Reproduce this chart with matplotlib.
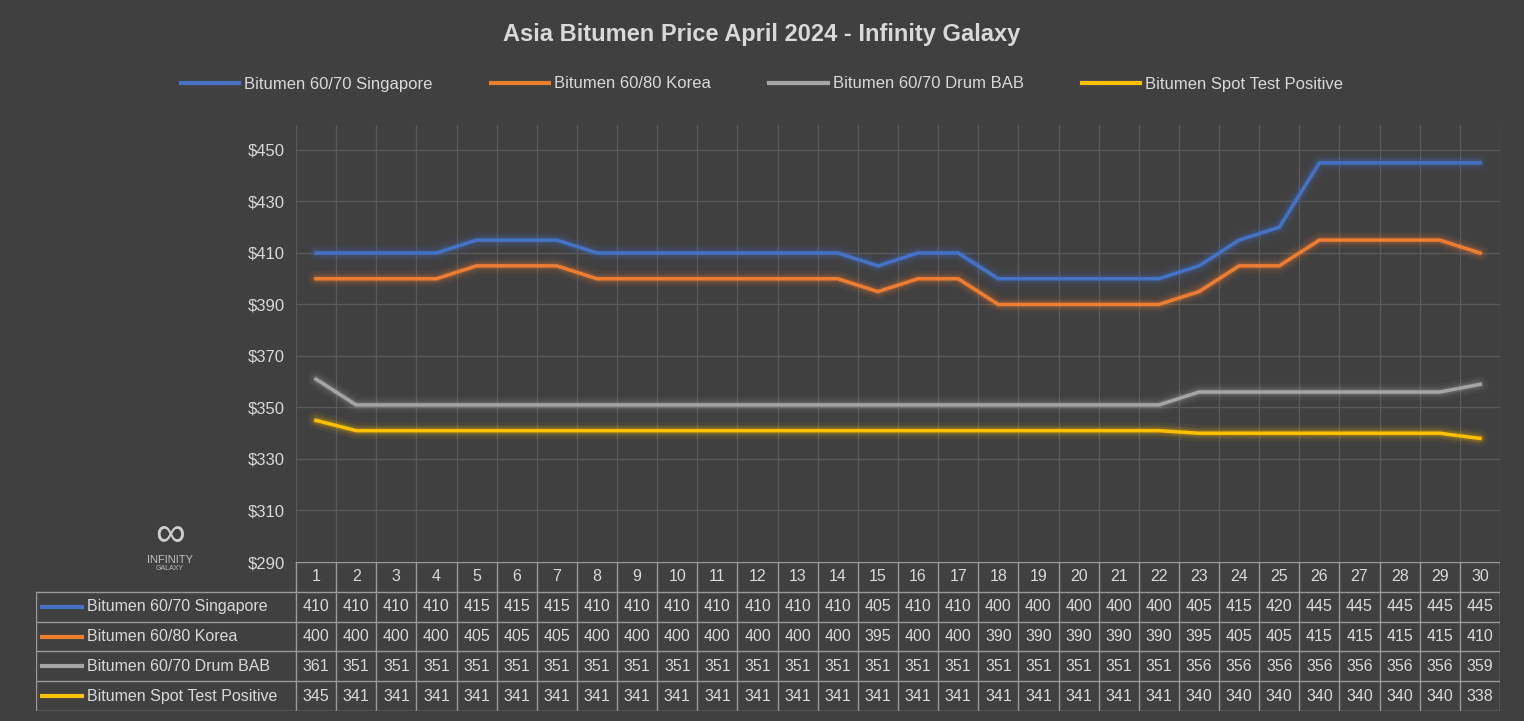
import numpy as np
import matplotlib
matplotlib.use('Agg')
import matplotlib.pyplot as plt
from matplotlib.lines import Line2D

plt.rcParams['font.family'] = ['Liberation Sans', 'DejaVu Sans']

days = list(range(1, 31))
names = ['Bitumen 60/70 Singapore', 'Bitumen 60/80 Korea',
         'Bitumen 60/70 Drum BAB', 'Bitumen Spot Test Positive']
singapore = [410, 410, 410, 410, 415, 415, 415, 410, 410, 410, 410, 410, 410, 410, 405,
             410, 410, 400, 400, 400, 400, 400, 405, 415, 420, 445, 445, 445, 445, 445]
korea = [400, 400, 400, 400, 405, 405, 405, 400, 400, 400, 400, 400, 400, 400, 395,
         400, 400, 390, 390, 390, 390, 390, 395, 405, 405, 415, 415, 415, 415, 410]
drum = [361, 351, 351, 351, 351, 351, 351, 351, 351, 351, 351, 351, 351, 351, 351,
        351, 351, 351, 351, 351, 351, 351, 356, 356, 356, 356, 356, 356, 356, 359]
spot = [345, 341, 341, 341, 341, 341, 341, 341, 341, 341, 341, 341, 341, 341, 341,
        341, 341, 341, 341, 341, 341, 341, 340, 340, 340, 340, 340, 340, 340, 338]
series = [singapore, korea, drum, spot]
colors = ['#4472c4', '#ed7d31', '#a5a5a5', '#ffc000']
yticks = [290, 310, 330, 350, 370, 390, 410, 430, 450]

BG = '#404040'
GRID = '#585858'
TXT = '#d9d9d9'
W, H = 1524, 721

fig = plt.figure(figsize=(W / 100, H / 100), dpi=100, facecolor=BG)

def px(x0, y0, x1, y1):
    return [x0 / W, 1 - y1 / H, (x1 - x0) / W, (y1 - y0) / H]

ax = fig.add_axes(px(296, 125, 1500, 562), facecolor=BG)
x = np.arange(len(days))
for s, c in zip(series, colors):
    for lw, a in [(12, 0.06), (8, 0.1), (5, 0.2)]:
        ax.plot(x, s, color=c, lw=lw, alpha=a, solid_joinstyle='round', solid_capstyle='round')
    ax.plot(x, s, color=c, lw=2.5, solid_joinstyle='round')
ax.set_xlim(-0.5, len(days) - 0.5)
ax.set_ylim(290, 459.7)
ax.set_yticks(yticks)
ax.set_yticklabels(['$%d' % v for v in yticks], color=TXT, fontsize=12)
ax.set_xticks(np.arange(len(days) + 1) - 0.5)
ax.set_xticklabels([])
ax.grid(True, color=GRID, lw=1)
ax.tick_params(length=0, pad=8)
for sp in ax.spines.values():
    sp.set_visible(False)
ax.set_axisbelow(True)

# data table
tab = fig.add_axes(px(36, 562, 1500, 711), facecolor='none')
tab.set_xlim(36, 1500)
tab.set_ylim(711, 562)
tab.axis('off')
cw = (1500 - 296) / len(days)
rh = (711 - 562) / 5
lc = '#9a9a9a'
tab.plot([296, 1500], [562, 562], color=lc, lw=1)
for i, d in enumerate(days):
    tab.text(296 + cw * (i + 0.5), 562 + rh / 2, str(d), ha='center', va='center', color=TXT, fontsize=11.5)
for r in range(1, 6):
    tab.plot([36, 1500], [562 + rh * r, 562 + rh * r], color=lc, lw=1)
for i in range(len(days) + 1):
    tab.plot([296 + cw * i] * 2, [562, 711], color=lc, lw=1)
tab.plot([36, 36], [562 + rh, 711], color=lc, lw=1)
for r, (n, s, c) in enumerate(zip(names, series, colors)):
    yc = 562 + rh * (r + 1.5)
    tab.plot([42, 82], [yc, yc], color=c, lw=3)
    tab.text(87, yc, n, ha='left', va='center', color=TXT, fontsize=11.5)
    for i, v in enumerate(s):
        tab.text(296 + cw * (i + 0.5), yc, str(v), ha='center', va='center', color=TXT, fontsize=11.5)

fig.text(0.5, 1 - 35 / H, 'Asia Bitumen Price April 2024 - Infinity Galaxy', ha='center', va='center',
         color=TXT, fontsize=17, fontweight='bold')
handles = [Line2D([], [], color=c, lw=3) for c in colors]
fig.legend(handles, names, loc='center', bbox_to_anchor=(0.5, 1 - 84 / H), ncol=4, frameon=False,
           fontsize=12, labelcolor=TXT, handlelength=3.5, handletextpad=0.3, columnspacing=3.5)

fig.text(170 / W, 1 - 535 / H, '∞', ha='center', va='center', color='#cfcfcf', fontsize=30)
fig.text(170 / W, 1 - 560 / H, 'INFINITY', ha='center', va='center', color='#bfbfbf', fontsize=8)
fig.text(170 / W, 1 - 569 / H, 'GALAXY', ha='center', va='center', color='#bfbfbf', fontsize=5)

fig.savefig('out.png', dpi=100, facecolor=BG)
